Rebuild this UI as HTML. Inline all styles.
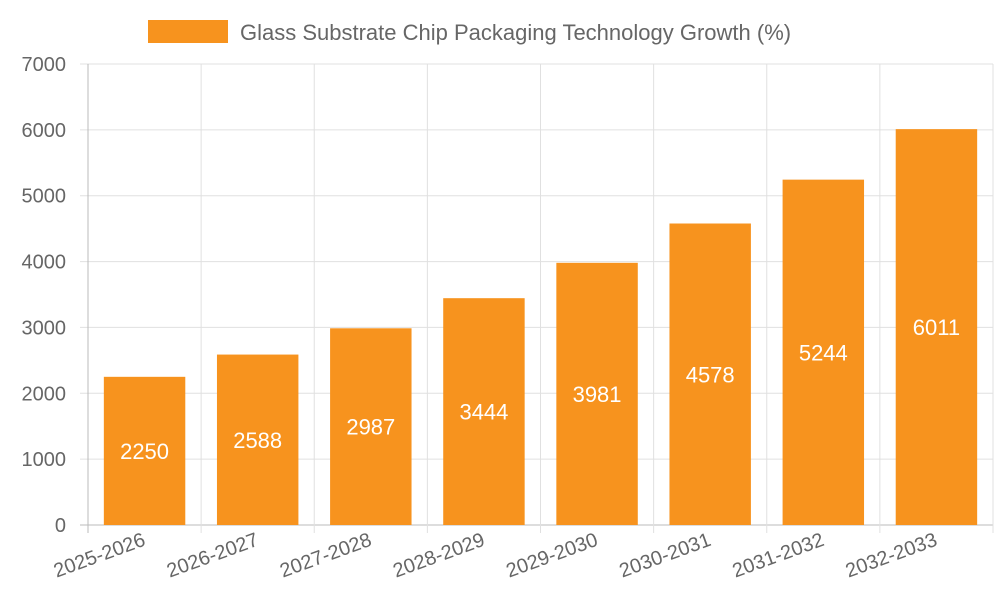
<!DOCTYPE html>
<html><head><meta charset="utf-8"><style>body{margin:0;background:#fff}svg{display:block;font-family:"Liberation Sans",sans-serif}</style></head>
<body>
<svg id="c" width="1000" height="600"></svg>
<script>
const categories=["2025-2026","2026-2027","2027-2028","2028-2029","2029-2030","2030-2031","2031-2032","2032-2033"];
const values=[2250,2588,2987,3444,3981,4578,5244,6011];
const yTicks=[0,1000,2000,3000,4000,5000,6000,7000];
const seriesName="Glass Substrate Chip Packaging Technology Growth (%)";
const svg=document.getElementById('c');const NS="http://www.w3.org/2000/svg";
const L=88,R=993,T=64,B=525,yMax=7000;
const y=v=>B-(v/yMax)*(B-T);
const bw=(R-L)/categories.length;
const x=i=>L+i*bw;
function el(t,a,p){const e=document.createElementNS(NS,t);for(const k in a)e.setAttribute(k,a[k]);(p||svg).appendChild(e);return e;}
yTicks.forEach(t=>{
 const g=el('line',{x1:80,x2:R,y1:y(t),y2:y(t),stroke:t===0?'#bbb':'#e0e0e0','stroke-width':1});
 
 const tx=el('text',{x:66,y:y(t)+7,'text-anchor':'end','font-size':20,fill:'#666'});tx.textContent=t;
 
});
for(let i=0;i<=categories.length;i++){
 const g=el('line',{x1:x(i),x2:x(i),y1:T,y2:B+8,stroke:i===0?'#bbb':'#e0e0e0','stroke-width':1});
 
}
categories.forEach((c,i)=>{
 const cx=x(i)+bw/2,w=bw*0.72,top=y(values[i]);
 const r=el('rect',{x:cx-w/2,y:top,width:w,height:B-top,fill:'#f7931e'});
 
 const v=el('text',{x:cx,y:(top+B)/2+8,'text-anchor':'middle','font-size':22,fill:'#fff'});v.textContent=values[i];
 
 const lx=cx+2,ly=545;
 const t=el('text',{x:lx,y:ly,'text-anchor':'end','font-size':20,fill:'#666',transform:`rotate(-20 ${lx} ${ly})`});t.textContent=c;
 
});
const lg=el('rect',{x:148,y:20,width:80,height:23,fill:'#f7931e'});

const lt=el('text',{x:240,y:40,'font-size':22,fill:'#666'});lt.textContent=seriesName;

</script>
</body></html>
